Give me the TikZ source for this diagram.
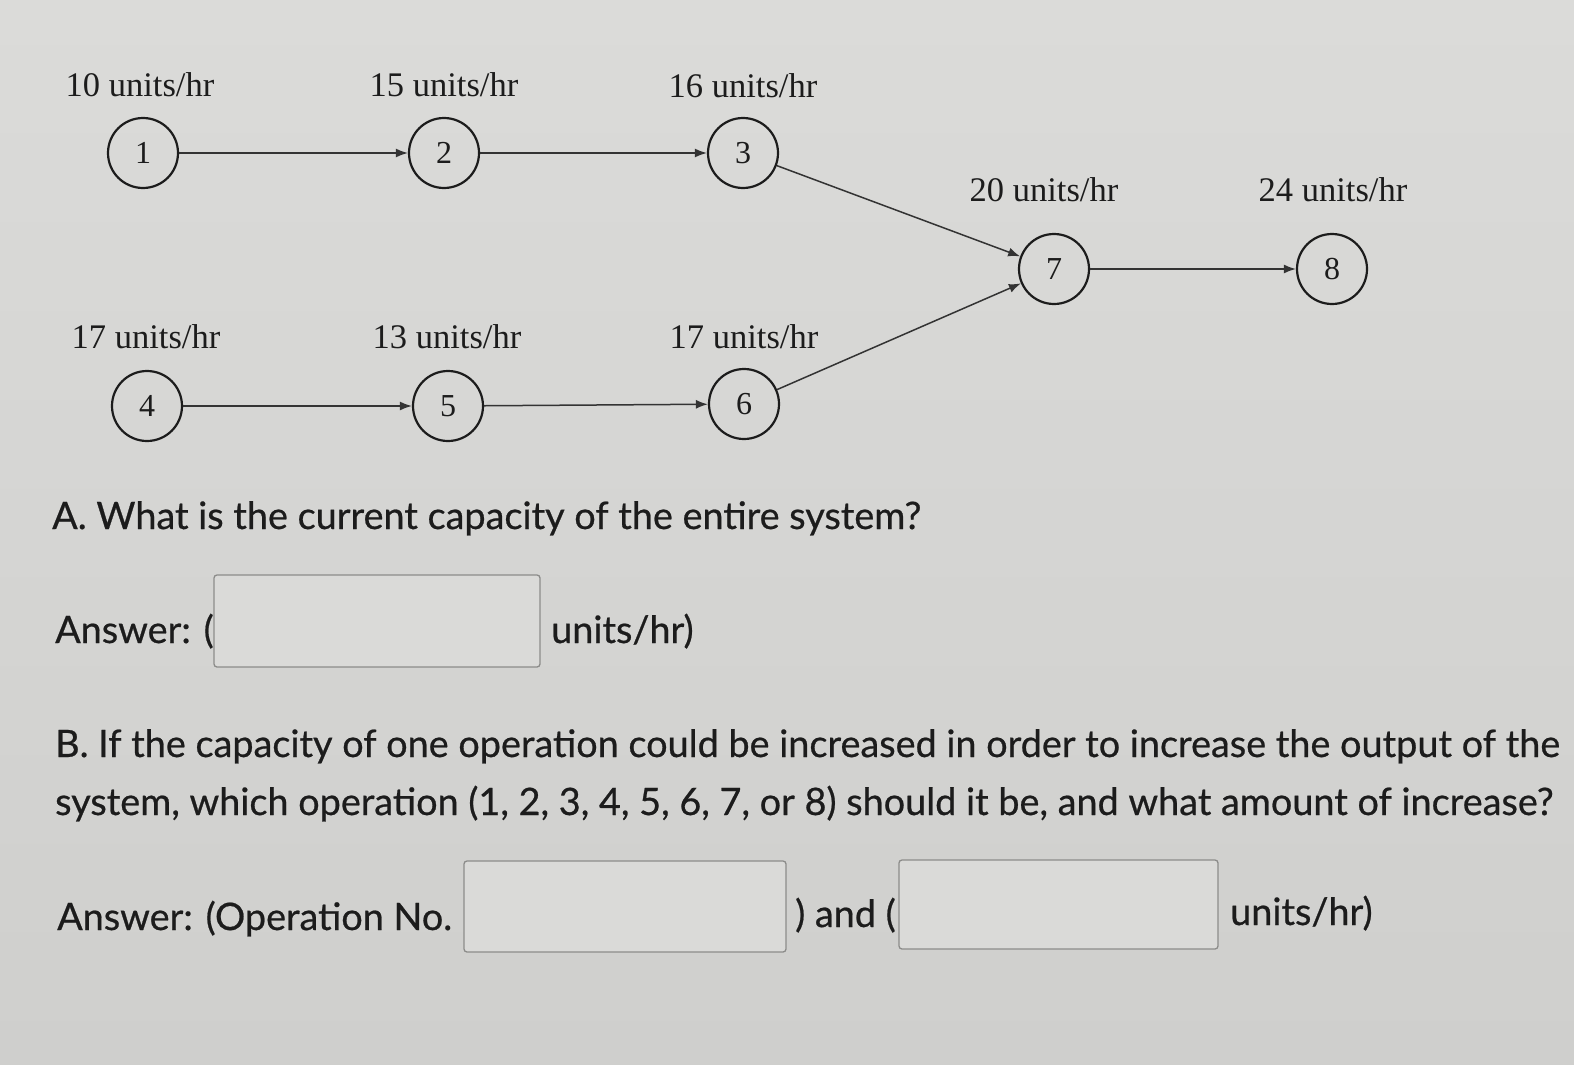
\documentclass[tikz,border=0pt]{standalone}
\usepackage{fontspec}
\setmainfont{Liberation Serif}
\newfontfamily\latofont[FakeBold=0.6]{Lato}
\usetikzlibrary{arrows.meta}
\definecolor{bgtop}{HTML}{DBDBD9}
\definecolor{bgbot}{HTML}{CFCFCD}
\definecolor{ink}{HTML}{1C1C1C}
\definecolor{boxline}{HTML}{8C8C8A}
\definecolor{boxfill}{HTML}{DADAD8}
\tikzset{
  opnode/.style={circle,draw=ink,line width=2.2pt,minimum size=70pt,inner sep=0pt,text=ink,font=\fontsize{32}{34}\selectfont},
  ratelabel/.style={anchor=base,text=ink,inner sep=0pt,font=\fontsize{34.5}{37}\selectfont},
  flow/.style={draw=ink!90,line width=1.5pt,-{Latex[length=12pt,width=9pt]}},
  qtext/.style={anchor=base west,text=ink,inner sep=0pt,font=\latofont\fontsize{37.8}{42}\selectfont},
  ansbox/.style={draw=boxline,fill=boxfill,line width=1.3pt,rounded corners=3pt}
}
\begin{document}
\begin{tikzpicture}[x=1pt,y=-1pt]
\shade[top color=bgtop,bottom color=bgbot] (0,0) rectangle (1574,1065);
\useasboundingbox (0,0) rectangle (1574,1065);
% operation nodes
\node[opnode] (n1) at (143,153) {1};
\node[opnode] (n2) at (444,153) {2};
\node[opnode] (n3) at (743,153) {3};
\node[opnode] (n7) at (1054,269) {7};
\node[opnode] (n8) at (1332,269) {8};
\node[opnode] (n4) at (147,406) {4};
\node[opnode] (n5) at (448,406) {5};
\node[opnode] (n6) at (744,404) {6};
% rate labels
\node[ratelabel] (l1) at (140,96) {10 units/hr};
\node[ratelabel] (l2) at (444,96) {15 units/hr};
\node[ratelabel] (l3) at (743,97) {16 units/hr};
\node[ratelabel] (l7) at (1044,201) {20 units/hr};
\node[ratelabel] (l8) at (1333,201) {24 units/hr};
\node[ratelabel] (l4) at (146,348) {17 units/hr};
\node[ratelabel] (l5) at (447,348) {13 units/hr};
\node[ratelabel] (l6) at (744,348) {17 units/hr};
% flows
\draw[flow] (n1) -- (n2);
\draw[flow] (n2) -- (n3);
\draw[flow] (n3) -- (n7);
\draw[flow] (n6) -- (n7);
\draw[flow] (n7) -- (n8);
\draw[flow] (n4) -- (n5);
\draw[flow] (n5) -- (n6);
% questions
\node[qtext] (qa) at (52,529) {A. What is the current capacity of the entire system?};
\node[qtext] (aa) at (55,643) {Answer: (};
\draw[ansbox] (214,575) rectangle (540,667);
\node[qtext] (ua) at (551,643) {units/hr)};
\node[qtext] (qb1) at (55,757) {B. If the capacity of one operation could be increased in order to increase the output of the};
\node[qtext] (qb2) at (55,815) {system, which operation (1, 2, 3, 4, 5, 6, 7, or 8) should it be, and what amount of increase?};
\node[qtext] (ab) at (57,930) {Answer: (Operation No.};
\draw[ansbox] (464,861) rectangle (786,952);
\node[qtext] (and) at (795,927) {) and (};
\draw[ansbox] (899,860) rectangle (1218,949);
\node[qtext] (ub) at (1230,925) {units/hr)};
\end{tikzpicture}
\end{document}
